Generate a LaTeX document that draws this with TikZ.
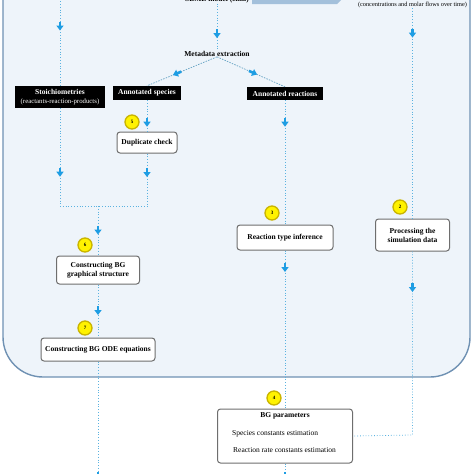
\documentclass[tikz,border=0pt]{standalone}
\usepackage{fontspec}
\setmainfont{Liberation Serif}
\usepackage{tikz}
\usetikzlibrary{decorations.markings}
\definecolor{panelfill}{HTML}{EEF4FA}
\definecolor{paneldraw}{HTML}{6F91B3}
\definecolor{flowline}{HTML}{5AB2E0}
\definecolor{tipblue}{HTML}{1E9DE3}
\definecolor{boxdraw}{HTML}{6E6E6E}
\definecolor{numfill}{HTML}{FFF200}
\definecolor{numdraw}{HTML}{C9B400}
\definecolor{bigarrow}{HTML}{A3C0DB}
\tikzset{
  panel/.style={draw=paneldraw, fill=panelfill, line width=1.4pt, rounded corners=40pt},
  flow/.style={draw=flowline, dotted, line width=0.8pt},
  branch/.style={draw=flowline!70!gray, dash pattern=on 1.5pt off 1.2pt, line width=0.7pt},
  tipat/.style={postaction={decorate,decoration={markings,mark=at position #1 with {
        \fill[tipblue] (-4.5,-1.3) rectangle (0,1.3);
        \fill[tipblue] (-0.5,-3.7) -- (4.5,0) -- (-0.5,3.7) -- cycle;}}}},
  blk/.style={fill=black, text=white, font=\fontsize{7.5}{8.5}\selectfont\bfseries, inner sep=1pt, align=center},
  stepbox/.style={draw=boxdraw, fill=white, line width=1pt, rounded corners=3pt,
    font=\fontsize{7.5}{9}\selectfont\bfseries, align=center, inner sep=1pt},
  num/.style={circle, fill=numfill, draw=numdraw, line width=1.3pt, minimum size=14pt,
    inner sep=0pt, font=\fontsize{5}{5.5}\selectfont\bfseries},
  txt/.style={font=\fontsize{7.5}{8.5}\selectfont, inner sep=0pt},
  txtb/.style={font=\fontsize{7.5}{8.5}\selectfont\bfseries, inner sep=0pt},
}

\begin{document}
\begin{tikzpicture}[x=1pt,y=-1pt]
  \useasboundingbox (0,0) rectangle (474,474);
  \draw[panel] (3,-40) rectangle (470,377);
  % top strip, cut off
  \fill[bigarrow] (252,-12) -- (252,4) -- (337,4) -- (347,-6) -- (347,-12) -- cycle;
  \node[txtb] (sbml) at (217,0) {SBML model (.xml)};
  \node[txt, font=\fontsize{6.3}{7}\selectfont] (conc) at (412.5,5) {(concentrations and molar flows over time)};
  \node[txtb] (meta) at (217,54) {Metadata extraction};
  % boxes
  \node[blk, minimum width=90pt, minimum height=22pt] (stoich) at (60,97)
    {Stoichiometries\\{\mdseries\fontsize{6.8}{7.5}\selectfont (reactants-reaction-products)}};
  \node[blk, minimum width=68pt, minimum height=14pt] (spec) at (147,93) {Annotated species};
  \node[blk, minimum width=76pt, minimum height=13pt] (react) at (285,93.5) {Annotated reactions};
  \node[stepbox, minimum width=60pt, minimum height=21pt] (dup) at (147,142.5) {Duplicate check};
  \node[stepbox, minimum width=96pt, minimum height=25pt] (rti) at (285,237.5) {Reaction type inference};
  \node[stepbox, minimum width=74pt, minimum height=32pt] (proc) at (412.5,235) {Processing the\\simulation data};
  \node[stepbox, minimum width=83pt, minimum height=28pt] (graph) at (98,270) {Constructing BG\\graphical structure};
  \node[stepbox, minimum width=114pt, minimum height=23pt] (ode) at (98,349.5) {Constructing BG ODE equations};
  \node[stepbox, minimum width=135pt, minimum height=54pt] (params) at (285,436) {};
  \node[txtb] (ptitle) at (285,416) {BG parameters};
  \node[txt, anchor=west] (pspec) at (232,434) {Species constants estimation};
  \node[txt, anchor=west] (prate) at (233,450) {Reaction rate constants estimation};
  % free ends
  \coordinate (ltop) at (60,-10);
  \coordinate (lcorner) at (60,206);
  \coordinate (rcorner) at (147,206);
  \coordinate (join) at (98,206);
  \coordinate (lbot) at (98,490);
  \coordinate (rbot) at (285,490);
  \coordinate (rmid) at (412.5,435);
  % flow lines
  \draw[flow, tipat=36pt] (ltop) -- (stoich.north);
  \draw[flow, tipat=64pt] (stoich.south) -- (lcorner);
  \draw[flow] (lcorner) -- (rcorner);
  \draw[flow, tipat=19pt] (dup.south) -- (rcorner);
  \draw[flow, tipat=24pt] (join) -- (graph.north);
  \draw[flow, tipat=26pt] (graph.south) -- (ode.north);
  \draw[flow, tipat=115pt] (ode.south) -- (lbot);
  \draw[flow, tipat=30pt] (sbml.south) -- (meta.north);
  \draw[branch, tipat=0.57] (meta.south) -- (spec.north);
  \draw[branch, tipat=0.53] (meta.south) -- (react.north);
  \draw[flow, tipat=22pt] (spec.south) -- (dup.north);
  \draw[flow, tipat=22pt] (react.south) -- (rti.north);
  \draw[flow, tipat=17pt] (rti.south) -- (params.north);
  \draw[flow, tipat=13pt] (params.south) -- (rbot);
  \draw[flow, tipat=25pt] (conc.south) -- (proc.north);
  \draw[flow, tipat=36pt] (proc.south) -- (rmid) -- (params.east);
  % step numbers
  \foreach \n/\x/\y in {5/132/122, 3/272/213, 2/400/207, 6/85/245, 7/85/328, 4/274/398}
    \node[num] (n\n) at (\x,\y) {\n};
\end{tikzpicture}
\end{document}
